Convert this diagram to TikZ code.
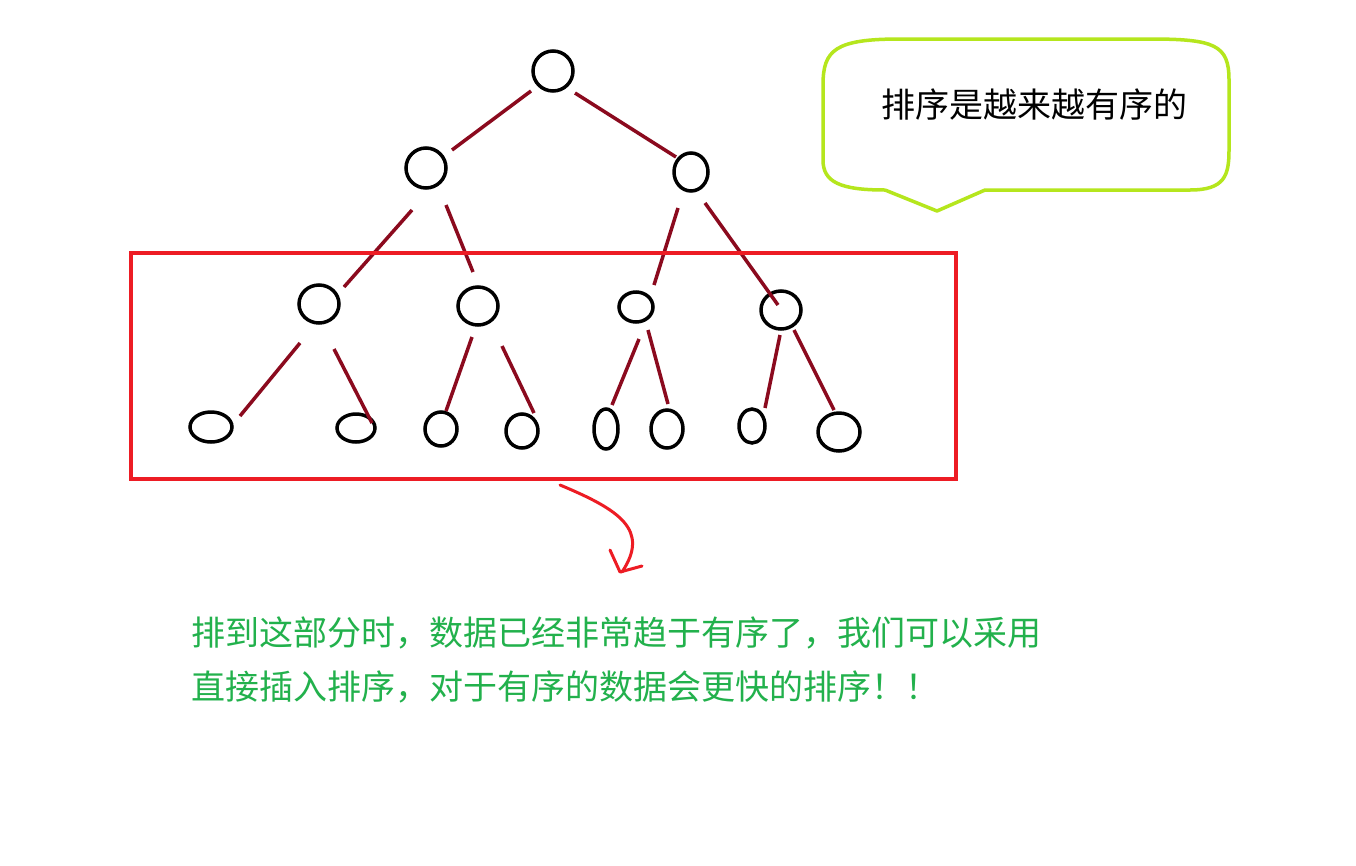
\documentclass[tikz,border=0pt]{standalone}
\usepackage{fontspec}
\newfontfamily\cjk{Noto Sans CJK SC}
\definecolor{edge}{HTML}{8B0A1E}
\definecolor{boxred}{HTML}{ED1C24}
\definecolor{bub}{HTML}{B5E61D}
\definecolor{txtg}{HTML}{22B14C}
\begin{document}
\begin{tikzpicture}[x=1pt,y=-1pt,
  nd/.style={draw=black,line width=3.5pt,ellipse,inner sep=0pt},
  ed/.style={draw=edge,line width=3.5pt}]
\useasboundingbox (0,0) rectangle (1356,865);
\fill[white] (0,0) rectangle (1356,865);
\newcommand\nd[5]{\draw[line width=3.5pt] (#2,#3) ellipse [x radius=#4,y radius=#5]; \coordinate (#1) at (#2,#3);}
\nd{r}{553}{71}{20}{20}
\nd{a}{426}{168}{20}{20}
\nd{b}{691}{172}{17}{19}
\nd{a1}{319}{304}{20}{19}
\nd{a2}{478}{306}{20}{19}
\nd{b1}{636}{307}{17}{15}
\nd{b2}{781}{310}{20}{19}
\nd{c1}{211}{427}{21}{15}
\nd{c2}{356}{428}{19}{14}
\nd{c3}{441}{429}{16}{17}
\nd{c4}{522}{431}{16}{17}
\nd{c5}{606}{429}{12}{20}
\nd{c6}{667}{429}{16}{19}
\nd{c7}{752}{426}{13}{17}
\nd{c8}{839}{432}{21}{19}
\draw[ed] (531,91) -- (452,150);
\draw[ed] (575,93) -- (676,157);
\draw[ed] (412,210) -- (344,287);
\draw[ed] (446,205) -- (473,272);
\draw[ed] (678,208) -- (654,285);
\draw[ed] (705,203) -- (778,305);
\draw[ed] (300,343) -- (240,416);
\draw[ed] (334,349) -- (372,423);
\draw[ed] (472,337) -- (446,411);
\draw[ed] (502,346) -- (534,413);
\draw[ed] (639,339) -- (612,405);
\draw[ed] (648,330) -- (668,404);
\draw[ed] (780,335) -- (765,408);
\draw[ed] (794,330) -- (834,410);
\draw[boxred,line width=3.5pt] (131,253) rectangle (956,479);
\draw[bub,line width=3.5pt,line join=round] (885,190) -- (937,211) -- (985,190) -- (1190,190)
  .. controls (1225,190) and (1229,175) .. (1229,150) -- (1229,80)
  .. controls (1229,45) and (1215,39) .. (1150,39) -- (900,39)
  .. controls (835,39) and (823,50) .. (823,85) -- (823,160)
  .. controls (823,182) and (840,190) .. (885,190);
\node[font=\cjk\fontsize{34}{40}\selectfont,anchor=west] (t1) at (878,105) {排序是越来越有序的};
\draw[boxred,line width=3pt,line cap=round,line join=round] (560,485) .. controls (620,510) and (650,530) .. (622,572);
\draw[boxred,line width=3pt,line cap=round,line join=round] (610,550) -- (620,572) -- (642,566);
\node[font=\cjk\fontsize{34}{54}\selectfont,text=txtg,anchor=north west,align=left,inner sep=0pt] (t2) at (191,617)
 {排到这部分时，数据已经非常趋于有序了，我们可以采用\\直接插入排序，对于有序的数据会更快的排序！！};
\end{tikzpicture}
\end{document}
